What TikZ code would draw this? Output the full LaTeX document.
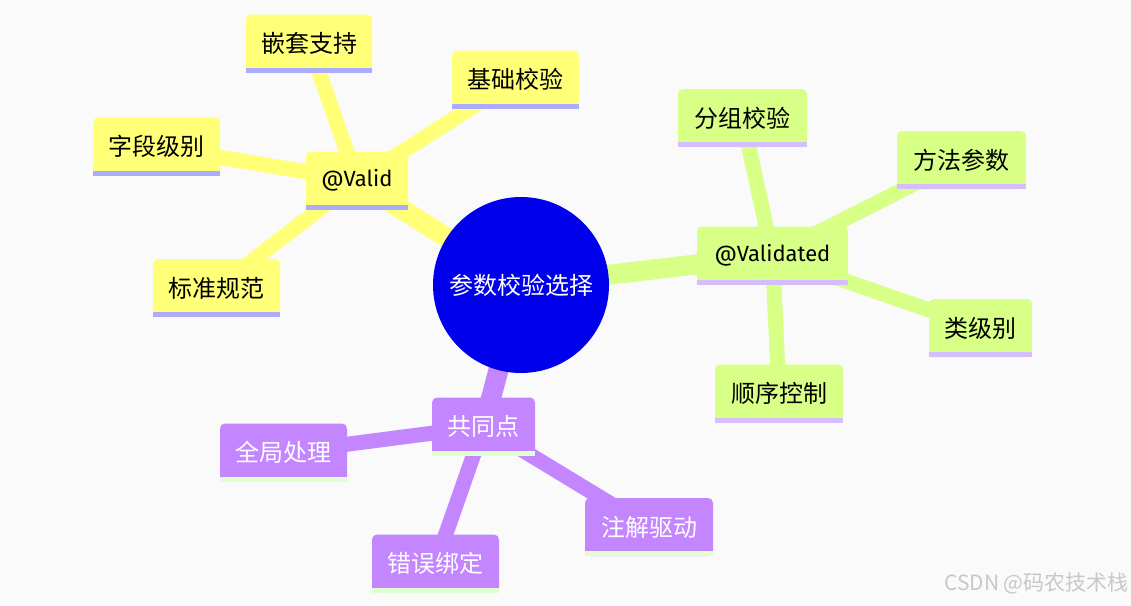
\documentclass[tikz,border=0pt]{standalone}
\usepackage{fontspec}
\setmainfont{Noto Sans CJK SC}
\newfontfamily\latin{Fira Sans}
\definecolor{bgc}{RGB}{250,250,250}
\definecolor{yel}{RGB}{255,255,120}
\definecolor{yelu}{RGB}{172,172,255}
\definecolor{grn}{RGB}{216,255,134}
\definecolor{grnu}{RGB}{212,190,255}
\definecolor{pur}{RGB}{196,134,255}
\definecolor{puru}{RGB}{224,255,208}
\definecolor{rootc}{RGB}{0,0,236}
\definecolor{wm}{RGB}{200,200,200}
\pgfdeclarelayer{bgl}\pgfdeclarelayer{edgel}\pgfsetlayers{bgl,edgel,main}
\begin{document}
\begin{tikzpicture}[x=1pt,y=-1pt,
 box/.style={rounded corners=5pt, minimum height=58pt, inner sep=0pt, minimum width=#1,
   font=\fontsize{24}{28}\selectfont},
 ybox/.style={box=#1, fill=yel, text=black},
 gbox/.style={box=#1, fill=grn, text=black},
 pbox/.style={box=#1, fill=pur, text=white},
 rootedge/.style={line width=20pt, draw=#1},
 leafedge/.style={line width=15pt, draw=#1},
]
\begin{pgfonlayer}{bgl}
\fill[bgc] (0,0) rectangle (1131,605);
\end{pgfonlayer}
% root
\node[circle, fill=rootc, minimum size=176pt, inner sep=0pt, text=white,
  font=\fontsize{24}{28}\selectfont] (root) at (521,285) {参数校验选择};
% @Valid branch
\node[ybox=102pt] (valid) at (357,180.5) {\latin\fontsize{22}{26}\selectfont @Valid};
\node[ybox=126pt] (nest) at (309,43.5) {嵌套支持};
\node[ybox=127pt] (basic) at (515.5,79.5) {基础校验};
\node[ybox=127pt] (field) at (156.5,146.5) {字段级别};
\node[ybox=127pt] (std) at (216.5,288) {标准规范};
% @Validated branch
\node[gbox=151pt] (vd) at (772.5,255.5) {\latin\fontsize{22}{26}\selectfont @Validated};
\node[gbox=129pt] (group) at (742.5,118) {分组校验};
\node[gbox=129pt] (method) at (961.5,160) {方法参数};
\node[gbox=103pt] (cls) at (980.5,328) {类级别};
\node[gbox=128pt] (order) at (779,393.5) {顺序控制};
% common branch
\node[pbox=103pt] (common) at (483.5,426.5) {共同点};
\node[pbox=127pt] (global) at (283.5,452.5) {全局处理};
\node[pbox=127pt] (err) at (435.5,563.5) {错误绑定};
\node[pbox=128pt] (anno) at (649,527) {注解驱动};
% square bottoms and underlines
\foreach \n/\c/\u in {valid/yel/yelu, nest/yel/yelu, basic/yel/yelu, field/yel/yelu, std/yel/yelu,
  vd/grn/grnu, group/grn/grnu, method/grn/grnu, cls/grn/grnu, order/grn/grnu,
  common/pur/puru, global/pur/puru, err/pur/puru, anno/pur/puru}{
  \fill[\c] (\n.south west) rectangle ([yshift=8pt]\n.south east);
  \fill[\u] (\n.south west) rectangle ([yshift=5pt]\n.south east);
}
\begin{pgfonlayer}{edgel}
\draw[rootedge=yel] (root.center) -- (valid.center);
\draw[rootedge=grn] (root.center) -- (vd.center);
\draw[rootedge=pur] (root.center) -- (common.center);
\draw[leafedge=yel] (valid.center) -- (nest.center);
\draw[leafedge=yel] (valid.center) -- (basic.center);
\draw[leafedge=yel] (valid.center) -- (field.center);
\draw[leafedge=yel] (valid.center) -- (std.center);
\draw[leafedge=grn] (vd.center) -- (group.center);
\draw[leafedge=grn] (vd.center) -- (method.center);
\draw[leafedge=grn] (vd.center) -- (cls.center);
\draw[leafedge=grn] (vd.center) -- (order.center);
\draw[leafedge=pur] (common.center) -- (global.center);
\draw[leafedge=pur] (common.center) -- (err.center);
\draw[leafedge=pur] (common.center) -- (anno.center);
\end{pgfonlayer}
\node[anchor=east, text=wm, inner sep=0pt, font=\fontsize{21}{25}\selectfont] (wmark) at (1129,583) {CSDN @码农技术栈};
\end{tikzpicture}
\end{document}
